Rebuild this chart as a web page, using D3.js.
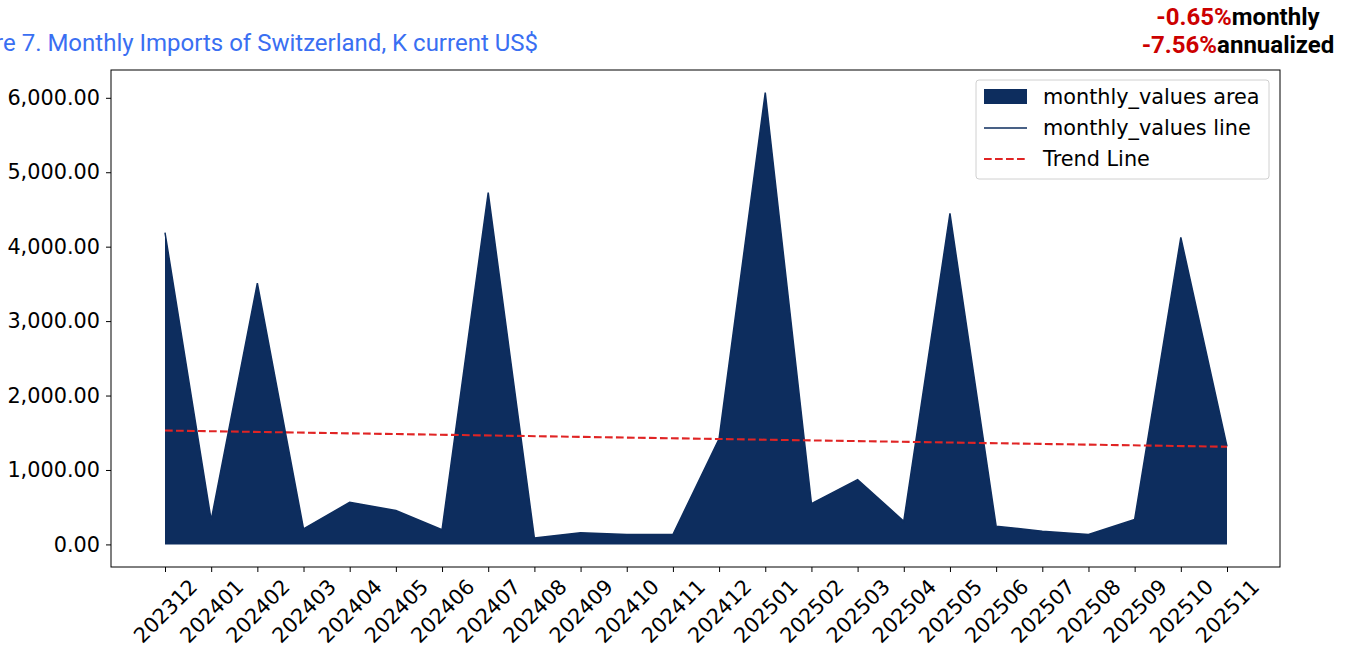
<!DOCTYPE html>
<html lang="en">
<head>
    <meta charset="UTF-8">
    <title>Monthly Imports of Switzerland</title>
    <script src="https://d3js.org/d3.v7.min.js"></script>
    <style>
        body { margin: 0; background: #fff; }
        .tick text { font-family: "DejaVu Sans", sans-serif; font-size: 20.8px; fill: #000; }
        .legend text { font-family: "DejaVu Sans", sans-serif; font-size: 20.8px; fill: #000; }
    </style>
</head>
<body>
    <svg width="1352" height="650"></svg>
    <script>
        // month labels
        const months = ["202312", "202401", "202402", "202403", "202404", "202405", "202406",
            "202407", "202408", "202409", "202410", "202411", "202412", "202501", "202502",
            "202503", "202504", "202505", "202506", "202507", "202508", "202509", "202510", "202511"];

        // monthly values, K current US$
        const monthlyValues = [4190, 325, 3510, 210, 565, 455, 197, 4728, 85, 156, 134, 132,
            1420, 6070, 549, 870, 312, 4446, 245, 178, 134, 335, 4125, 1317];

        // trend line end points (first and last month)
        const trendValues = [1530, 1312];

        const yTicks = [0, 1000, 2000, 3000, 4000, 5000, 6000];

        const growthLabels = [
            { pct: "-0.65%", text: "monthly" },
            { pct: "-7.56%", text: "annualized" }
        ];

        const navy = "#0d2d5e";
        const red = "#e02424";

        const svg = d3.select("svg");

        const plotLeft = 111, plotRight = 1280, plotTop = 70, plotBottom = 567;

        const maxV = d3.max(monthlyValues);
        const pad = maxV * 0.05;

        const x = d3.scalePoint()
            .domain(months)
            .range([165, 1227]);

        const y = d3.scaleLinear()
            .domain([-pad, maxV + pad])
            .range([plotBottom, plotTop]);

        // area
        const area = d3.area()
            .x((d, i) => x(months[i]))
            .y0(y(0))
            .y1(d => y(d));

        svg.append("path")
            .datum(monthlyValues)
            .attr("d", area)
            .attr("fill", navy);

        const line = d3.line()
            .x((d, i) => x(months[i]))
            .y(d => y(d));

        svg.append("path")
            .datum(monthlyValues)
            .attr("d", line)
            .attr("fill", "none")
            .attr("stroke", navy)
            .attr("stroke-width", 1.5);

        // trend line
        svg.append("line")
            .attr("x1", x(months[0]))
            .attr("y1", y(trendValues[0]))
            .attr("x2", x(months[months.length - 1]))
            .attr("y2", y(trendValues[1]))
            .attr("stroke", red)
            .attr("stroke-width", 2.1)
            .attr("stroke-dasharray", "7.7,3.3");

        // axes
        const yAxis = svg.append("g")
            .attr("transform", `translate(${plotLeft},0)`)
            .call(d3.axisLeft(y).tickValues(yTicks).tickSize(5).tickPadding(6)
                .tickFormat(d3.format(",.2f")));
        yAxis.select(".domain").remove();

        const xAxis = svg.append("g")
            .attr("transform", `translate(0,${plotBottom})`)
            .call(d3.axisBottom(x).tickSize(5));
        xAxis.select(".domain").remove();
        xAxis.selectAll(".tick text")
            .attr("x", 0).attr("y", 0)
            .attr("text-anchor", "middle")
            .attr("dy", "0.35em")
            .attr("transform", "translate(0,44) rotate(-45)");

        svg.append("rect")
            .attr("x", plotLeft).attr("y", plotTop)
            .attr("width", plotRight - plotLeft).attr("height", plotBottom - plotTop)
            .attr("fill", "none").attr("stroke", "#000").attr("stroke-width", 1);

        // legend
        const legend = svg.append("g").attr("class", "legend");
        legend.append("rect")
            .attr("x", 976).attr("y", 80).attr("width", 293).attr("height", 99)
            .attr("rx", 3).attr("fill", "#fff").attr("fill-opacity", 0.8)
            .attr("stroke", "#d0d0d0");
        const ly = [97, 128, 159];
        legend.append("rect").attr("x", 984).attr("y", ly[0] - 8).attr("width", 43).attr("height", 15).attr("fill", navy);
        legend.append("line").attr("x1", 984).attr("x2", 1027).attr("y1", ly[1]).attr("y2", ly[1])
            .attr("stroke", navy).attr("stroke-width", 1.5);
        legend.append("line").attr("x1", 984).attr("x2", 1027).attr("y1", ly[2]).attr("y2", ly[2])
            .attr("stroke", red).attr("stroke-width", 2.1).attr("stroke-dasharray", "7.7,3.3");
        ["monthly_values area", "monthly_values line", "Trend Line"].forEach((t, i) => {
            legend.append("text").attr("x", 1043).attr("y", ly[i]).attr("dy", "0.35em").text(t);
        });

        // title
        svg.append("text")
            .attr("x", 538).attr("y", 51)
            .attr("text-anchor", "end")
            .style("font-family", "Roboto, sans-serif")
            .style("font-size", "24px")
            .attr("fill", "#3a6ff2")
            .text("Figure 7. Monthly Imports of Switzerland, K current US$");

        // growth annotation
        growthLabels.forEach((g, i) => {
            const t = svg.append("text")
                .attr("x", 1238).attr("y", 25 + i * 28)
                .attr("text-anchor", "middle")
                .style("font-family", "Roboto, sans-serif")
                .style("font-size", "24px")
                .style("font-weight", "bold");
            t.append("tspan").attr("fill", "#cc0000").text(g.pct);
            t.append("tspan").attr("fill", "#000").text(g.text);
        });
    </script>
</body>
</html>
